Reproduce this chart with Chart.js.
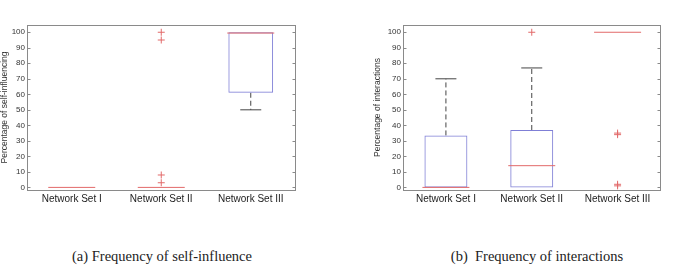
<!DOCTYPE html>
<html>
<head>
<meta charset="utf-8">
<script src="https://cdn.jsdelivr.net/npm/chart.js@4.4.1/dist/chart.umd.min.js"></script>
<style>
  html, body { margin: 0; padding: 0; background: #fff; width: 685px; height: 265px; overflow: hidden; }
  .wrap { position: absolute; top: 0; }
  .cap { position: absolute; top: 248px; font-family: "Liberation Serif", "Times New Roman", serif; font-size: 14.5px; color: #222; white-space: pre; transform: translateX(-50%); }
</style>
</head>
<body>
<div class="wrap" style="left:0px"><canvas id="chartA" width="320" height="215"></canvas></div>
<div class="wrap" style="left:340px"><canvas id="chartB" width="345" height="215"></canvas></div>
<div class="cap" style="left:162px">(a) Frequency of self-influence</div>
<div class="cap" style="left:537px">(b)  Frequency of interactions</div>
<script>
// ---- data ----
const categories = ['Network Set I', 'Network Set II', 'Network Set III'];
const yTicks = [0, 10, 20, 30, 40, 50, 60, 70, 80, 90, 100];

// (a) Frequency of self-influence
const selfQ1 = [0, 0, 61];
const selfQ3 = [0, 0, 100];
const selfMedian = [0, 0, 99.5];
const selfLowerWhisker = [0, 0, 50];
const selfUpperWhisker = [0, 0, 100];
const selfOutliers = [[], [100, 95, 8, 3], []];

// (b) Frequency of interactions
const interQ1 = [0, 0, 100];
const interQ3 = [33.5, 37, 100];
const interMedian = [0, 14, 100];
const interLowerWhisker = [0, 0, 100];
const interUpperWhisker = [70, 77, 100];
const interOutliers = [[], [100], [35, 34, 2, 1]];

// ---- styling ----
const BLUE = '#7f7fd6';
const RED = '#e26a6a';
const WHISKER = '#444';
const FRAME = '#8a8a8a';

const framePlugin = {
  id: 'frame',
  afterDraw(chart) {
    const {ctx, chartArea: a, scales: {y}} = chart;
    ctx.save();
    ctx.strokeStyle = FRAME;
    ctx.lineWidth = 1;
    const l = Math.round(a.left) + 0.5, r = Math.round(a.right) - 0.5;
    const t = Math.round(a.top) + 0.5, b = Math.round(a.bottom) - 0.5;
    ctx.strokeRect(l, t, r - l, b - t);
    ctx.beginPath();
    for (const v of yTicks) {
      const py = Math.round(y.getPixelForValue(v)) + 0.5;
      ctx.moveTo(l, py); ctx.lineTo(l + 3, py);
      ctx.moveTo(r, py); ctx.lineTo(r - 3, py);
    }
    ctx.stroke();
    ctx.restore();
  }
};

function makeChart(id, q1, q3, med, lo, hi, outl, title, pad, yWidth, xHeight) {
  const boxes = categories.map((c, i) => [q1[i], q3[i]]);
  const medians = categories.map((c, i) => ({x: c, y: med[i]}));
  const whiskers = [];
  const caps = [];
  categories.forEach((c, i) => {
    // whiskers/caps that coincide with the box edge are hidden by the box, so skip them
    if (hi[i] !== q3[i]) {
      whiskers.push({x: c, y: q3[i]}, {x: c, y: hi[i]}, {x: c, y: null});
      caps.push({x: c, y: hi[i]});
    }
    if (lo[i] !== q1[i]) {
      whiskers.push({x: c, y: q1[i]}, {x: c, y: lo[i]}, {x: c, y: null});
      caps.push({x: c, y: lo[i]});
    }
  });
  const outliers = [];
  categories.forEach((c, i) => outl[i].forEach(v => outliers.push({x: c, y: v})));

  return new Chart(document.getElementById(id), {
    type: 'bar',
    data: {
      labels: categories,
      datasets: [
        { type: 'line', data: caps, showLine: false, pointStyle: 'line', pointRadius: 10.5,
          pointBorderColor: WHISKER, pointBorderWidth: 1, order: 5 },
        { type: 'line', data: whiskers, spanGaps: false, borderColor: WHISKER, borderWidth: 1,
          borderDash: [5, 3], pointRadius: 0, order: 4 },
        { type: 'bar', data: boxes, backgroundColor: 'rgba(0,0,0,0)', borderColor: BLUE,
          borderWidth: 1, borderSkipped: false, barPercentage: 0.5, categoryPercentage: 1, order: 3 },
        { type: 'line', data: medians, showLine: false, pointStyle: 'line', pointRadius: 23.5,
          pointBorderColor: RED, pointBorderWidth: 1, order: 2 },
        { type: 'line', data: outliers, showLine: false, pointStyle: 'cross', pointRadius: 3.5,
          pointBorderColor: RED, pointBorderWidth: 1, order: 1 }
      ]
    },
    options: {
      responsive: false,
      animation: false,
      devicePixelRatio: 1,
      layout: { padding: pad },
      plugins: { legend: { display: false }, tooltip: { enabled: false } },
      scales: {
        x: {
          type: 'category',
          offset: true,
          grid: { display: false, drawTicks: false },
          border: { display: false },
          ticks: { color: '#222', padding: 3, font: { family: 'Liberation Sans, Arial, sans-serif', size: 10 } },
          afterFit(s) { s.height = xHeight; }
        },
        y: {
          min: -2, max: 105,
          grid: { display: false, drawTicks: false },
          border: { display: false },
          afterBuildTicks(s) { s.ticks = yTicks.map(v => ({value: v})); },
          ticks: { color: '#333', padding: 2, font: { family: 'Liberation Sans, Arial, sans-serif', size: 8 } },
          title: { display: true, text: title, color: '#333', padding: {top: 0, bottom: 0},
                   font: { family: 'Liberation Sans, Arial, sans-serif', size: 8.5 } },
          afterFit(s) { s.width = yWidth; }
        }
      }
    },
    plugins: [framePlugin]
  });
}

makeChart('chartA', selfQ1, selfQ3, selfMedian, selfLowerWhisker, selfUpperWhisker, selfOutliers,
  'Percentage of self-influencing', {left: 0, right: 11, top: 0, bottom: 0}, 27, 16);
makeChart('chartB', interQ1, interQ3, interMedian, interLowerWhisker, interUpperWhisker, interOutliers,
  'Percentage of interactions', {left: 33, right: 2, top: 0, bottom: 0}, 30, 17);
</script>
</body>
</html>
